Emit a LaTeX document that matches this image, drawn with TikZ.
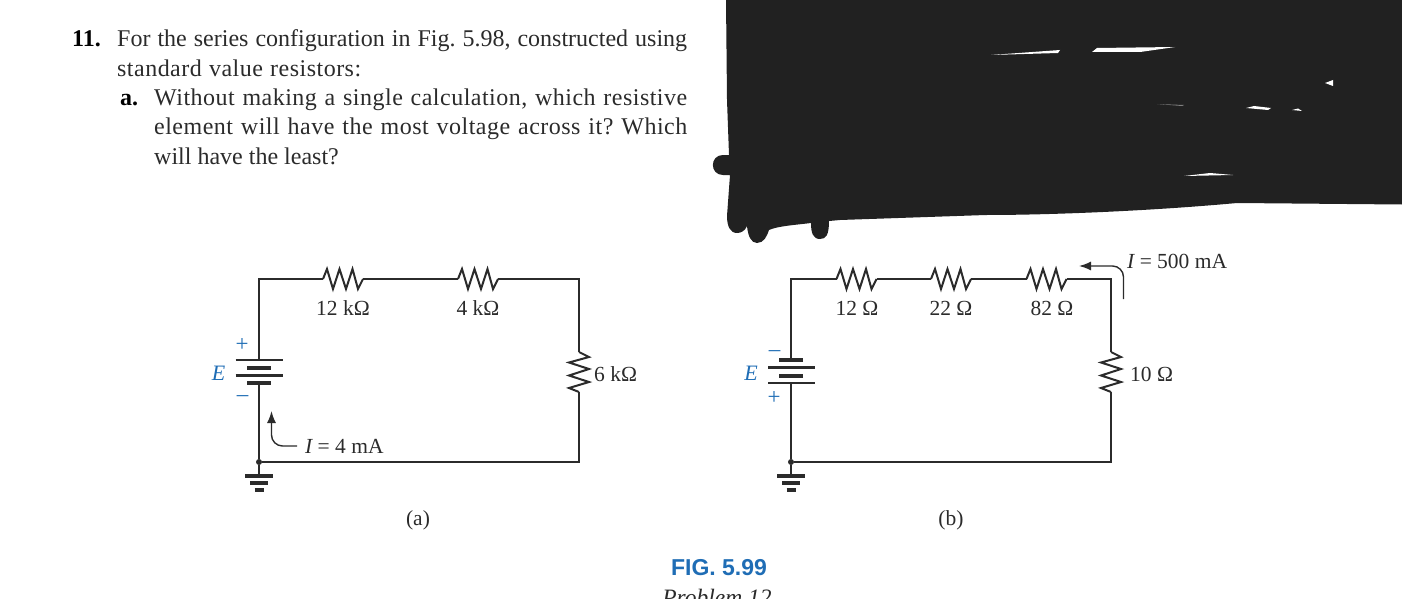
\documentclass[tikz,border=0pt]{standalone}
\usepackage{fontspec}
\setmainfont{Liberation Serif}
\setsansfont{Liberation Sans}
\usetikzlibrary{arrows.meta,positioning}
\definecolor{inkblue}{HTML}{1F6DB5}
\definecolor{ink}{HTML}{2B2B2B}
\definecolor{blot}{HTML}{212121}
\frenchspacing

\begin{document}
\begin{tikzpicture}[x=1pt, y=-1pt,
  wire/.style={draw=ink, line width=1.7pt},
  zig/.style={draw=ink, line width=2pt, line join=miter},
  thinplate/.style={draw=ink, line width=2.4pt},
  fatplate/.style={draw=ink, line width=4pt},
  cur/.style={draw=ink, line width=1.4pt, rounded corners=11pt, -{Latex[length=12pt,width=9pt]}},
  val/.style={font=\fontsize{21.5}{24}\selectfont, text=ink, inner sep=0pt, anchor=base},
  vallft/.style={val, anchor=base west},
  sign/.style={font=\fontsize{23}{24}\selectfont, text=inkblue, inner sep=0pt},
  labe/.style={font=\fontsize{22}{24}\selectfont\itshape, text=inkblue, inner sep=0pt, anchor=base},
  prob/.style={font=\fontsize{24}{29}\selectfont, text=ink, inner sep=0pt, anchor=base west},
  wide/.style={prob, font=\fontsize{24}{29}\selectfont\addfontfeature{LetterSpace=2}},
  probb/.style={prob, font=\fontsize{24}{29}\selectfont\bfseries, text=black},
  dot/.style={circle, fill=ink, minimum size=6pt, inner sep=0pt},
  reslr/.pic={\draw[zig] (-20,0) coordinate (-w) -- (-16,-10) -- (-10,10) -- (-3.5,-10)
    -- (3,10) -- (9.5,-10) -- (15,10) -- (20,0) coordinate (-e);},
  cell/.pic={
    \draw[thinplate] (-23.5,-11.5) -- (23.5,-11.5) (-23.5,4) -- (23.5,4);
    \draw[fatplate] (-12,-4) -- (12,-4) (-12,11.5) -- (12,11.5);
    \coordinate (-p) at (0,-11.5);
    \coordinate (-n) at (0,11.5);},
  gnd/.pic={
    \draw[fatplate] (-14,0) -- (14,0) (-9,7) -- (9,7) (-4.5,13.5) -- (4.5,13.5);
    \coordinate (-t) at (0,0);}]
  \useasboundingbox (0,0) rectangle (1402,599);

  \node[probb] (num) at (72,46.7) {11.};
  \node[prob] (l1) at (117,46.7) {\makebox[570pt][s]{For the series configuration in Fig. 5.98, constructed using}};
  \node[wide] (l2) at (117,76.7) {\makebox[244pt][s]{standard value resistors:}};
  \node[probb] (let) at (120,106) {a.};
  \node[wide] (l3) at (154,106) {\makebox[533pt][s]{Without making a single calculation, which resistive}};
  \node[wide] (l4) at (154,135) {\makebox[533pt][s]{element will have the most voltage across it? Which}};
  \node[prob] (l5) at (154,164.3) {will have the least?};

  \fill[blot] (726,0) -- (1402,0) -- (1402,204.5) -- (1237,203) .. controls (1150,211) and (1050,215) .. (986,215)
    -- (840,220) -- (829,221) .. controls (829,235) and (826,239) .. (820,239) .. controls (813,239) and (811,233) .. (811,223)
    .. controls (795,225) and (778,226) .. (769,230) .. controls (767,236) and (764,243) .. (757,243)
    .. controls (751,243) and (748,236) .. (747,226) .. controls (745,231) and (741,233) .. (737,233)
    .. controls (730,233) and (727,226) .. (727,216) -- (730,175)
    -- (723,175) .. controls (709.5,175) and (709.5,155) .. (723,155) -- (729,155) -- (727,100) -- cycle;
  \fill[white] (991,55) -- (1060,50) -- (1058,53) -- cycle;
  \fill[white] (1092,52) -- (1097,48) -- (1175,47) -- (1140,52) -- cycle;
  \fill[white] (1184,176) -- (1210,173) -- (1233,175) -- cycle;
  \fill[white] (1246,108) -- (1254,106) -- (1271,108) -- (1268,110) -- cycle;
  \fill[white] (1292,110) -- (1298,108.5) -- (1302,111) -- cycle;
  \fill[white] (1325,83) -- (1333,80) -- (1333,86) -- cycle;
  \fill[gray] (1157,104) -- (1184,105) -- (1182,106) -- cycle;

  \pic (r1a) at (343,279) {reslr};
  \pic (r2a) at (478,279) {reslr};
  \pic[rotate=90] (r3a) at (579,372) {reslr};
  \pic (ea) at (259,371.5) {cell};
  \pic (gnda) at (259,476) {gnd};
  \node[dot] (ja) at (259,462) {};
  \draw[wire] (ea-p) |- (r1a-w);
  \draw[wire] (r1a-e) -- (r2a-w);
  \draw[wire] (r2a-e) -| (r3a-e);
  \draw[wire] (r3a-w) |- (ja);
  \draw[wire] (ea-n) -- (ja);
  \draw[wire] (ja) -- (gnda-t);
  \node[val] (la1) at (343,315) {12 kΩ};
  \node[val] (la2) at (478,315) {4 kΩ};
  \node[vallft] (la3) at (594,381.7) {6 kΩ};
  \node[sign] (pa) at (242,345) {+};
  \node[labe] (labea) at (218.5,380) {E};
  \node[sign] (ma) at (242.5,399) {–};
  \node[vallft] (ia) at (305,453.5) {{\itshape I} = 4 mA};
  \coordinate (iastart) at (297,446);
  \coordinate (iatip) at (271.5,411);
  \draw[cur] (iastart) -| (iatip);
  \node[val] (capa) at (418,525) {(a)};

  \pic (r1b) at (856.5,279) {reslr};
  \pic (r2b) at (951,279) {reslr};
  \pic (r3b) at (1046.5,279) {reslr};
  \pic[rotate=90] (r4b) at (1111,372) {reslr};
  \pic[rotate=180] (eb) at (791,371.5) {cell};
  \pic (gndb) at (791,476) {gnd};
  \node[dot] (jb) at (791,462) {};
  \draw[wire] (eb-n) |- (r1b-w);
  \draw[wire] (r1b-e) -- (r2b-w);
  \draw[wire] (r2b-e) -- (r3b-w);
  \draw[wire] (r3b-e) -| (r4b-e);
  \draw[wire] (r4b-w) |- (jb);
  \draw[wire] (eb-p) -- (jb);
  \draw[wire] (jb) -- (gndb-t);
  \node[val] (lb1) at (857,315) {12 Ω};
  \node[val] (lb2) at (951,315) {22 Ω};
  \node[val] (lb3) at (1052,315) {82 Ω};
  \node[vallft] (lb4) at (1130,381.7) {10 Ω};
  \node[sign] (mb) at (774.5,354) {–};
  \node[labe] (labeb) at (751,380) {E};
  \node[sign] (pb) at (774,398) {+};
  \node[vallft] (ib) at (1127,268.5) {{\itshape I} = 500 mA};
  \coordinate (ibstart) at (1123.5,299);
  \coordinate (ibtip) at (1079,266);
  \draw[cur] (ibstart) |- (ibtip);
  \node[val] (capb) at (951,525) {(b)};

  \node[inner sep=0pt, font=\fontsize{23}{24}\selectfont\sffamily\bfseries, text=inkblue] (fig) at (719,568) {FIG. 5.99};
  \begin{scope}
    \clip (600,570) rectangle (840,599);
    \node[val, font=\fontsize{23.5}{24}\selectfont\itshape] (sub) at (717,605) {Problem 12};
  \end{scope}
\end{tikzpicture}
\end{document}
